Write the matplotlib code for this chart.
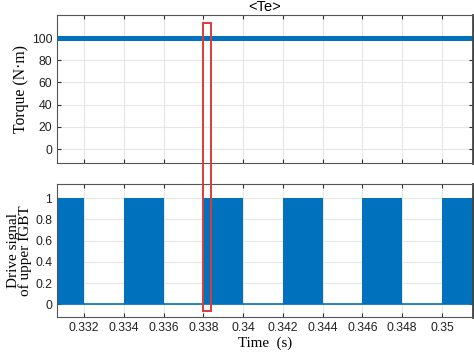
import matplotlib
matplotlib.use("Agg")
import matplotlib.pyplot as plt
from matplotlib.patches import Rectangle
from matplotlib.transforms import blended_transform_factory

# ---- data ----
x_limits = [0.33064, 0.35156]
x_ticks = [0.332, 0.334, 0.336, 0.338, 0.340, 0.342, 0.344, 0.346, 0.348, 0.350]
x_ticklabels = ["0.332", "0.334", "0.336", "0.338", "0.34", "0.342", "0.344", "0.346", "0.348", "0.35"]

torque_time = [0.33064, 0.35156]
torque_value = [100, 100]
torque_ticks = [0, 20, 40, 60, 80, 100]

pwm_on_start = [0.33064, 0.334, 0.338, 0.342, 0.346, 0.350]
pwm_on_end = [0.332, 0.336, 0.340, 0.344, 0.348, 0.35156]
pwm_low = 0
pwm_high = 1
pwm_ticks = [0, 0.2, 0.4, 0.6, 0.8, 1]

marker_x = [0.338, 0.3384]

blue = "#0072BD"
serif = ["Liberation Serif", "DejaVu Serif"]
sans = ["Liberation Sans", "DejaVu Sans"]

fig = plt.figure(figsize=(4.74, 3.56), dpi=100)
ax1 = fig.add_axes([0.1203, 0.5421, 0.8776, 0.4157])
ax2 = fig.add_axes([0.1203, 0.1104, 0.8776, 0.3719])

for ax in (ax1, ax2):
    ax.set_xlim(*x_limits)
    ax.set_xticks(x_ticks)
    ax.grid(True, color="#e6e6e6", linewidth=0.8)
    ax.set_axisbelow(True)
    ax.tick_params(direction="in", top=True, right=True, length=3,
                   color="#333333", labelsize=8.8, labelcolor="#222222")
    for s in ax.spines.values():
        s.set_color("#555555")
        s.set_linewidth(0.8)

# top: torque
ax1.plot(torque_time, torque_value, color=blue, linewidth=3.6, solid_capstyle="butt")
ax1.set_ylim(-12.6, 120.7)
ax1.set_yticks(torque_ticks)
ax1.set_yticklabels([str(v) for v in torque_ticks], family=sans)
ax1.set_xticklabels([])
ax1.set_ylabel("Torque (N·m)", family=serif, fontsize=11.3, labelpad=2)
ax1.set_title("<Te>", family=sans, fontsize=10.5, pad=3)
ax1.spines["right"].set_linewidth(2.0)
ax1.spines["right"].set_color("#444444")

# bottom: PWM drive signal
ax2.plot(x_limits, [pwm_low, pwm_low], color=blue, linewidth=1.2)
ax2.broken_barh([(s, e - s) for s, e in zip(pwm_on_start, pwm_on_end)],
                (pwm_low, pwm_high - pwm_low), facecolors=blue, edgecolors="none")
ax2.set_ylim(-0.117, 1.132)
ax2.set_yticks(pwm_ticks)
ax2.set_yticklabels(["0", "0.2", "0.4", "0.6", "0.8", "1"], family=sans)
ax2.set_xticklabels(x_ticklabels, family=sans)
ax2.set_ylabel("Drive signal\nof upper IGBT", family=serif, fontsize=11,
               labelpad=2, linespacing=0.9)
ax2.set_xlabel("Time  (s)", family=serif, fontsize=10.8, labelpad=2)
ax2.spines["right"].set_linewidth(2.0)
ax2.spines["right"].set_color("#444444")

# red marker rectangle spanning both panels
tr = blended_transform_factory(ax2.transData, fig.transFigure)
rect = Rectangle((marker_x[0], 0.1264), marker_x[1] - marker_x[0], 0.9354 - 0.1264,
                 transform=tr, fill=False, edgecolor="#e03a3a", linewidth=1.4,
                 clip_on=False, zorder=10)
fig.add_artist(rect)

fig.savefig("out.png", dpi=100)
